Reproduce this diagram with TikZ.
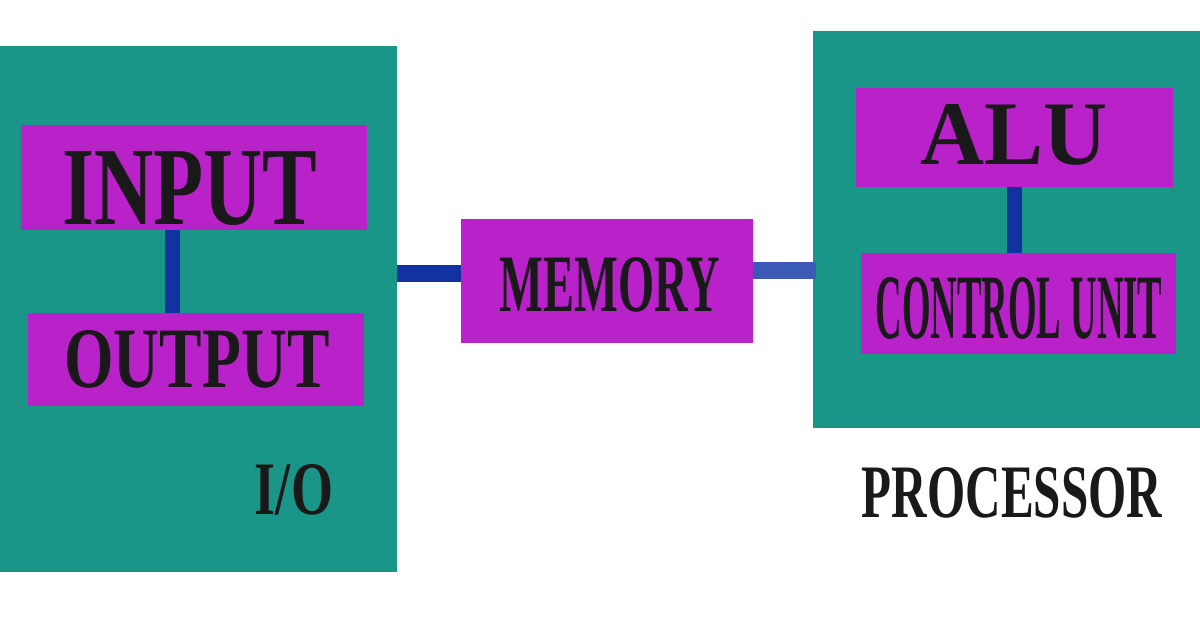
\documentclass[tikz,border=0pt]{standalone}
\usepackage{fontspec}
\setmainfont{Liberation Serif}
\definecolor{teal1}{HTML}{1A9688}
\definecolor{mag}{HTML}{B822C8}
\definecolor{bl1}{HTML}{1232A0}
\definecolor{bl2}{HTML}{3A5AB8}
\begin{document}
\begin{tikzpicture}[x=1pt,y=-1pt,
  box/.style={fill=mag,draw=none},
  lbl/.style={inner sep=0pt,text=black!90}]
\useasboundingbox (0,0) rectangle (1200,630);
\fill[white] (0,0) rectangle (1200,630);
\fill[teal1] (0,46) rectangle (397,572);
\fill[teal1] (813,31) rectangle (1200,428);
% connectors
\fill[bl1] (165,230) rectangle (180,313);
\fill[bl1] (1007,187) rectangle (1022,253);
\fill[bl1] (397,265) rectangle (465,282);
\fill[bl2] (753,262) rectangle (816,279);
% boxes
\fill[box] (21,125) rectangle (367,230);
\fill[box] (28,313) rectangle (364,406);
\fill[box] (461,219) rectangle (753,343);
\fill[box] (856,88) rectangle (1173,187);
\fill[box] (861,253) rectangle (1176,354);
% labels
\node[lbl] (in) at (190,189) {\resizebox{255pt}{73pt}{\bfseries INPUT}};
\node[lbl] (out) at (197,359) {\resizebox{265pt}{57pt}{\bfseries OUTPUT}};
\node[lbl] (mem) at (610,285) {\resizebox{220pt}{54pt}{\bfseries MEMORY}};
\node[lbl] (alu) at (1014,135) {\resizebox{187pt}{60pt}{\bfseries ALU}};
\node[lbl] (cu) at (1019,308) {\resizebox{287pt}{61pt}{\bfseries CONTROL UNIT}};
\node[lbl] (io) at (294,490) {\resizebox{78pt}{50pt}{\bfseries I/O}};
\node[lbl] (proc) at (1012,493) {\resizebox{300pt}{50pt}{\bfseries PROCESSOR}};
\end{tikzpicture}
\end{document}
